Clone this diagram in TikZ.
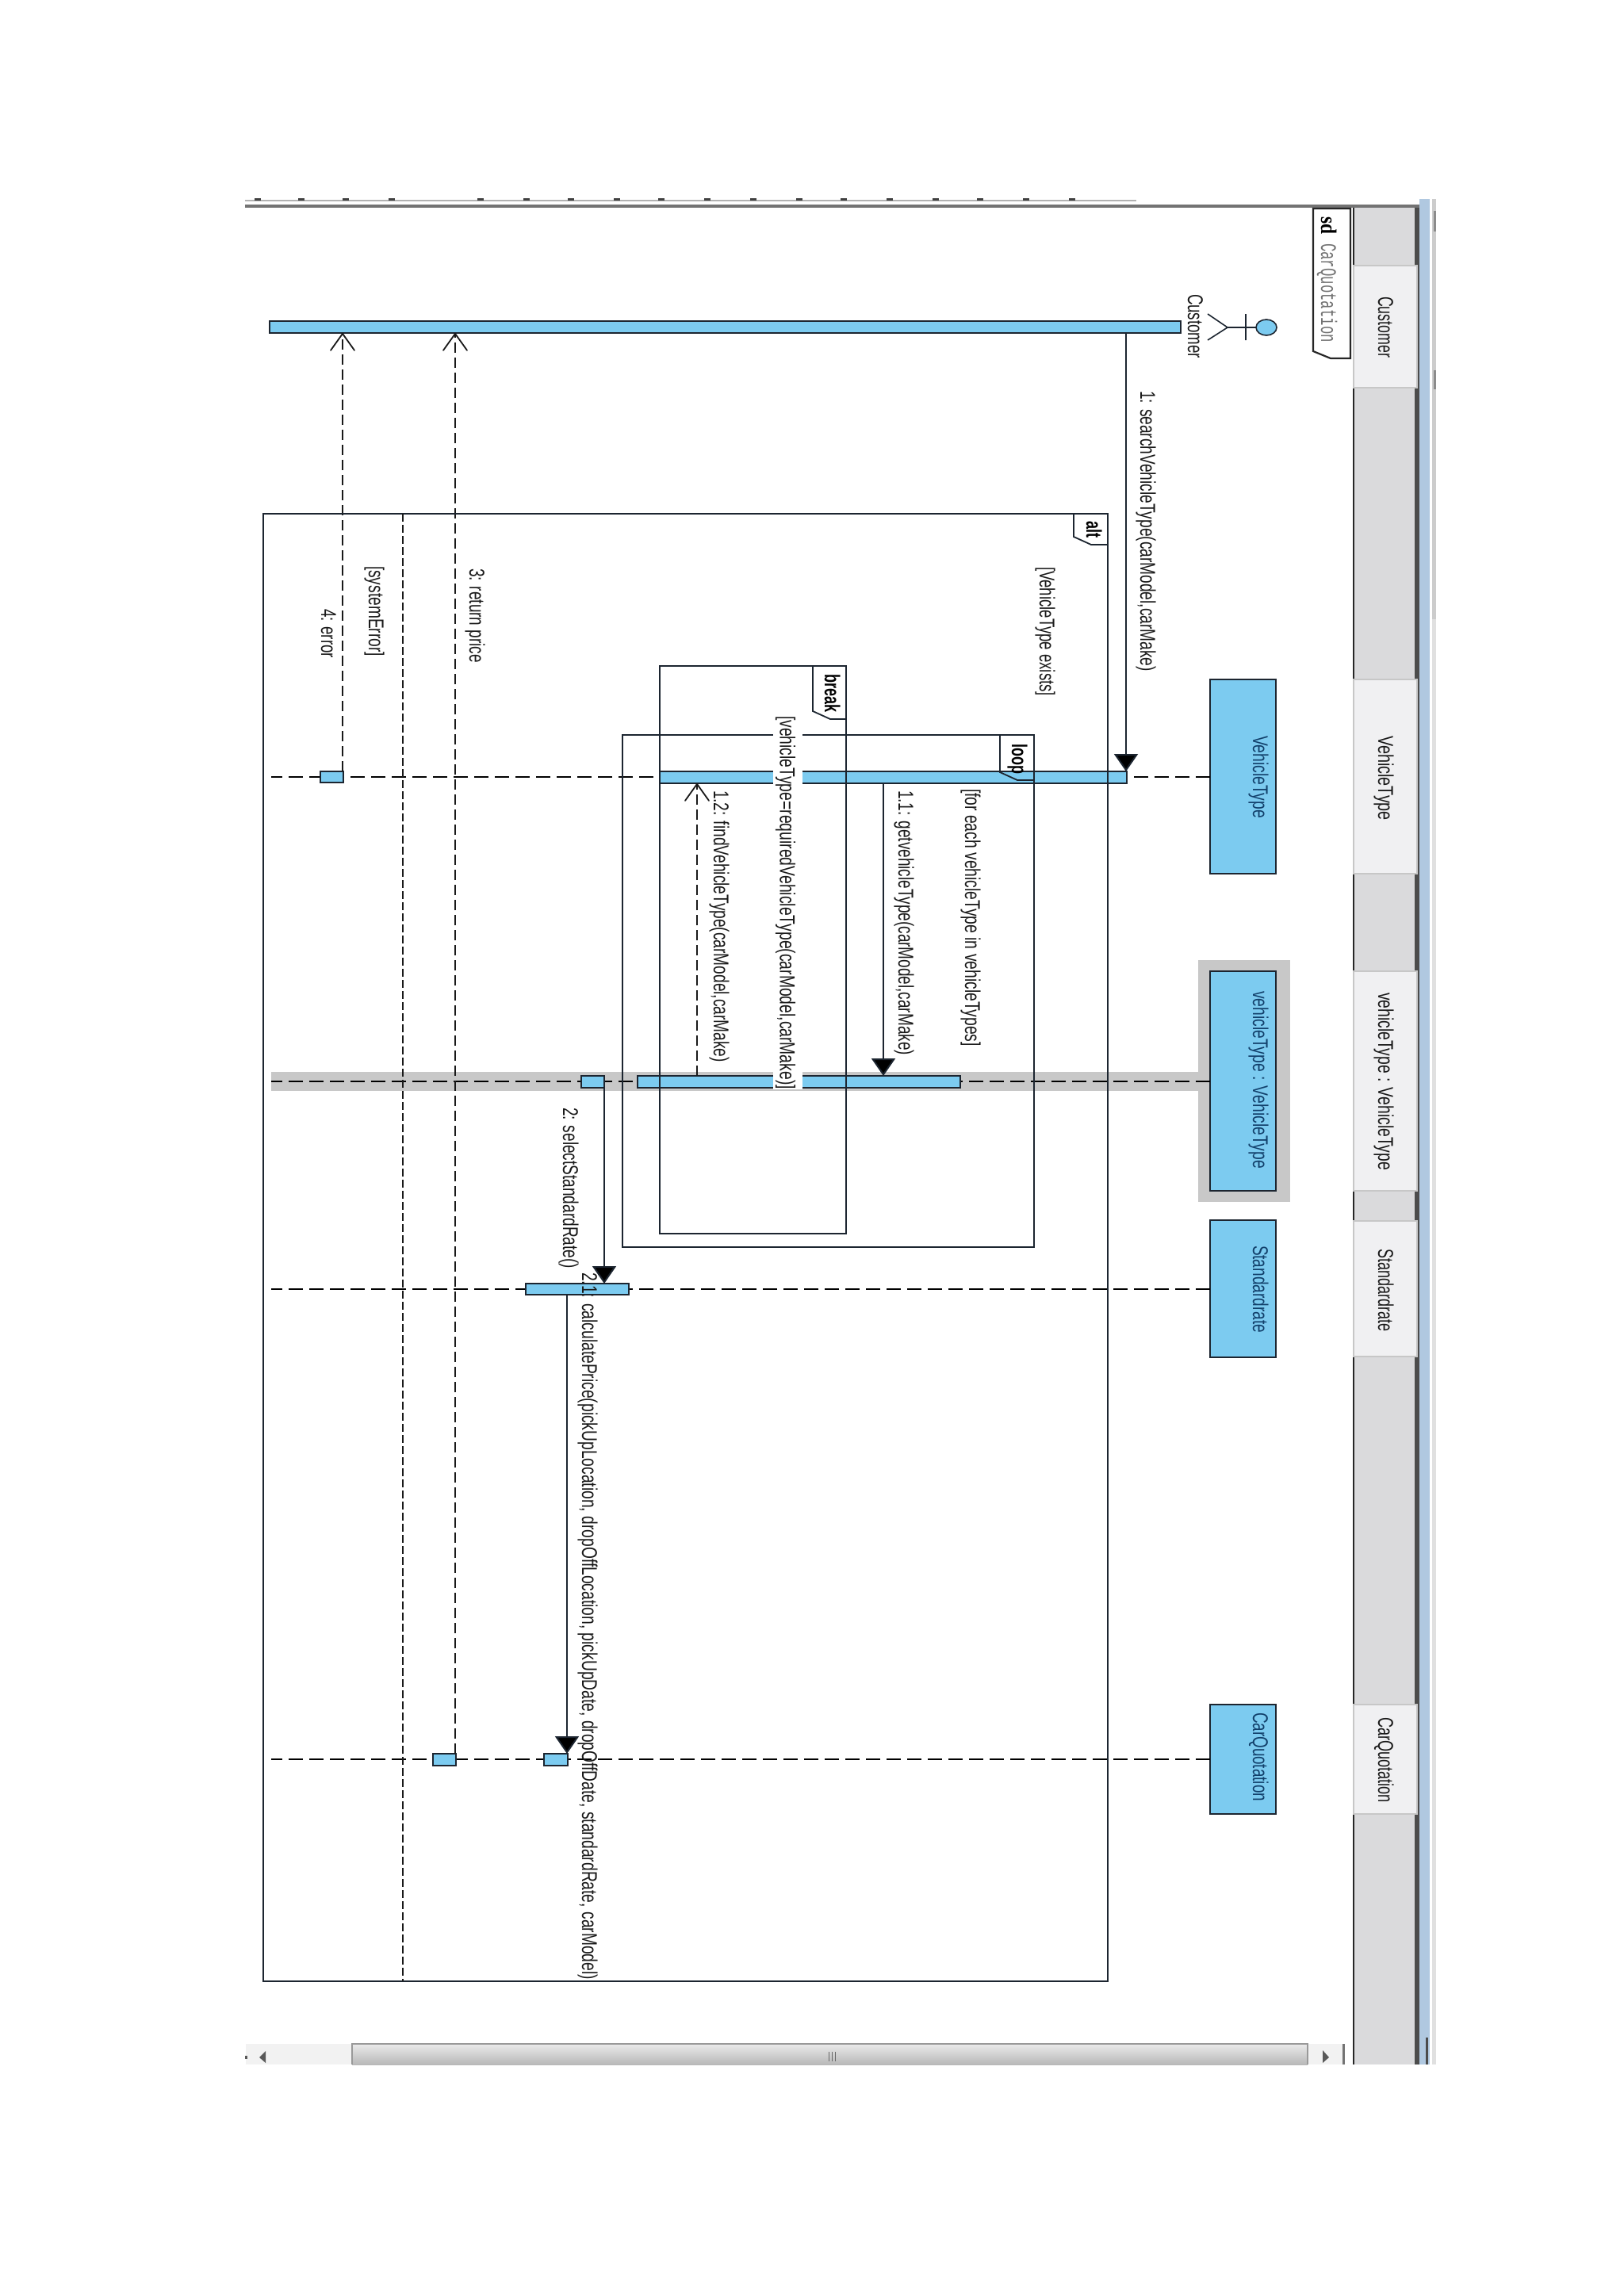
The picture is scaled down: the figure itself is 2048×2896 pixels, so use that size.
\documentclass[tikz,border=0pt]{standalone}
\usepackage{graphicx}
\usepackage{fontspec}
\setmainfont{Liberation Sans}
\newfontfamily\serifb{Liberation Serif}
\newfontfamily\monof{Liberation Mono}
\usetikzlibrary{arrows.meta,shadings,shapes.geometric}
\definecolor{objblue}{HTML}{7CCBF0}
\definecolor{linedark}{HTML}{1C2530}
\definecolor{navy}{HTML}{12406B}
\definecolor{txt}{HTML}{1A1A1A}
\definecolor{stripgrey}{HTML}{DADADC}
\definecolor{tabgrey}{HTML}{F0F0F2}
\definecolor{selgrey}{HTML}{C8C8C8}
\definecolor{winblue}{HTML}{B0C8E0}
\newlength\twl
\newcommand\tw[2]{\setlength{\twl}{#1pt}\setlength{\twl}{.5\twl}\resizebox{\twl}{\height}{#2}}
\newcommand\rectnode[6]{%
  \pgfmathsetmacro\rw{(#5-#3)/2}\pgfmathsetmacro\rh{(#6-#4)/2}%
  \pgfmathsetmacro\rx{(#3+#5)/2}\pgfmathsetmacro\ry{(#4+#6)/2}%
  \node[#1,minimum width=\rw pt,minimum height=\rh pt] (#2) at (\rx,\ry) {};}
\tikzset{
  base/.style={inner sep=0pt,outer sep=0pt},
  objbox/.style={base,draw=linedark,fill=objblue,line width=1.1pt},
  actbox/.style={base,draw=linedark,fill=objblue,line width=1pt},
  framebox/.style={base,draw=linedark,line width=.9pt},
  tabbox/.style={base,draw=black!22,fill=tabgrey,line width=.8pt},
  lbl/.style={base,rotate=-90,anchor=west,text height=10pt,text depth=3pt,text=txt,font=\fontsize{13.5}{15}\selectfont},
  lblb/.style={lbl,text=black,font=\fontsize{13.5}{15}\selectfont\bfseries},
  objlbl/.style={lbl,text=navy},
  tablbl/.style={lbl,text=black!90},
  life/.style={draw=black,line width=1pt,dash pattern=on 9pt off 4pt},
  msg/.style={draw=linedark,line width=1pt,-{Triangle[width=15pt,length=11pt,fill=black]}},
  ret/.style={draw=black!90,line width=1pt,dash pattern=on 6.5pt off 3pt,-{Straight Barb[width=15pt,length=10.5pt,line width=.9pt,round]}},
  sep/.style={draw=black!90,line width=1pt,dash pattern=on 5pt off 2pt},
}
\begin{document}
\begin{tikzpicture}[x=.5pt,y=-.5pt]
\useasboundingbox (0,0) rectangle (2048,2896);
\fill[white] (0,0) rectangle (2048,2896);
% window chrome
\fill[stripgrey] (1707,260) rectangle (1787,2604);
\draw[black!85,line width=1.2pt] (1707,260) -- (1707,2604);
\draw[black!85,line width=1.2pt] (1707,260) -- (1785,260);
\fill[black!70] (1784,260) rectangle (1790,2604);
\fill[winblue] (1790,251) rectangle (1803,2604);
\fill[black!20] (1806,251) rectangle (1811,781);
\fill[black!45] (1808,266) rectangle (1811,292);
\fill[black!45] (1808,467) rectangle (1811,491);
\fill[black!12] (1806,781) rectangle (1811,2604);
\fill[black!70] (1798,2570) rectangle (1801,2604);
\draw[black!55,line width=2pt] (309,260) -- (1790,260);
\draw[black!30,line width=.6pt] (309,253) -- (1433,253);
\foreach \tx in {325,380,436,494,606,664,720,778,834,892,950,1008,1064,1122,1180,1236,1294,1352}
  \fill[black!75] (\tx-4,250) rectangle (\tx+4,253);
% scrollbar
\fill[black!5] (310,2578) rectangle (1695,2604);
\fill[black!55] (1693,2578) rectangle (1696,2604);
\shade[top color=white!92!black,bottom color=black!28] (444,2578) rectangle (1649,2604);
\draw[black!40,line width=.8pt] (444,2604) -- (444,2578) -- (1649,2578) -- (1649,2604);
\fill[black!65] (1668,2586) -- (1676,2595) -- (1668,2602) -- cycle;
\fill[black!65] (335,2587) -- (327,2595) -- (335,2602) -- cycle;
\fill[black!65] (309,2593) rectangle (312,2597);
\foreach \gx in {1045,1049,1053}
  \draw[black!60,line width=.5pt] (\gx,2588) -- (\gx,2600);
% tabs
\rectnode{tabbox}{tabA}{1707}{335}{1787}{489}
\rectnode{tabbox}{tabB}{1707}{857}{1787}{1102}
\rectnode{tabbox}{tabC}{1707}{1225}{1787}{1502}
\rectnode{tabbox}{tabD}{1707}{1540}{1787}{1711}
\rectnode{tabbox}{tabE}{1707}{2150}{1787}{2288}
\node[tablbl] (tabtA) at (1745,374) {\tw{77}{Customer}};
\node[tablbl] (tabtB) at (1745,928) {\tw{107}{VehicleType}};
\node[tablbl] (tabtC) at (1745,1252) {\tw{224}{vehicleType : VehicleType}};
\node[tablbl] (tabtD) at (1745,1575) {\tw{104}{Standardrate}};
\node[tablbl] (tabtE) at (1745,2166) {\tw{108}{CarQuotation}};
% sd tag
\draw[black!85,fill=white,line width=1.1pt] (1656,263) -- (1703,263) -- (1703,452) -- (1678,452) -- (1656,443) -- cycle;
\node[lbl,text=black,font=\fontsize{14}{15}\selectfont\serifb\bfseries] (sdk) at (1673,273) {\tw{22}{sd}};
\node[lbl,text=black!55,font=\fontsize{14}{15}\selectfont\monof] (sdn) at (1673,307) {\tw{125}{CarQuotation}};
% selection
\fill[selgrey] (1511,1211) rectangle (1627,1516);
\fill[selgrey] (342,1352) rectangle (1511,1376);
% objects
\coordinate (lend) at (342,0);
\rectnode{objbox}{oVT}{1526}{857}{1609}{1102}
\rectnode{objbox}{oVI}{1526}{1225}{1609}{1502}
\rectnode{objbox}{oST}{1526}{1539}{1609}{1712}
\rectnode{objbox}{oCQ}{1526}{2150}{1609}{2288}
\draw[life] (oVT.west) -- (oVT.west -| lend);
\draw[life] (oVI.west) -- (oVI.west -| lend);
\draw[life] (oST.west) -- (oST.west -| lend);
\draw[life] (oCQ.west) -- (oCQ.west -| lend);
\node[objlbl] (otA) at (1587,928) {\tw{104}{VehicleType}};
\node[objlbl] (otB) at (1587,1250) {\tw{224}{vehicleType : VehicleType}};
\node[objlbl] (otC) at (1587,1571) {\tw{110}{Standardrate}};
\node[objlbl] (otD) at (1587,2160) {\tw{112}{CarQuotation}};
% actor
\node[base,draw=linedark,fill=objblue,line width=.8pt,ellipse,minimum width=13pt,minimum height=10pt] (head) at (1597,413) {};
\coordinate (hip) at (1548,413);
\coordinate (armA) at (1571,396);
\coordinate (armB) at (1571,429);
\coordinate (footA) at (1523,396);
\coordinate (footB) at (1523,429);
\draw[linedark,line width=.8pt] (head.west) -- (hip) (armA) -- (armB) (footA) -- (hip) -- (footB);
\node[lbl] (actl) at (1505,371) {\tw{81}{Customer}};
% activations
\rectnode{actbox}{acust}{340}{405}{1489}{420}
\rectnode{actbox}{avt}{832}{973}{1421}{988}
\rectnode{actbox}{aerr}{404}{973}{433}{987}
\rectnode{actbox}{along}{804}{1357}{1211}{1372}
\rectnode{actbox}{asm}{733}{1357}{762}{1372}
\rectnode{actbox}{astd}{663}{1619}{793}{1633}
\rectnode{actbox}{aret}{546}{2212}{575}{2227}
\rectnode{actbox}{acalc}{686}{2212}{716}{2227}
% messages
\coordinate (m1) at (1420,0);
\coordinate (m11) at (1114,0);
\coordinate (m12) at (879,0);
\coordinate (m2) at (762,0);
\coordinate (m21) at (715,0);
\coordinate (m3) at (574,0);
\coordinate (m4) at (432,0);
\draw[msg] (acust.south -| m1) -- (avt.north -| m1);
\draw[msg] (avt.south -| m11) -- (along.north -| m11);
\draw[ret] (along.north -| m12) -- (avt.south -| m12);
\draw[msg] (asm.south -| m2) -- (astd.north -| m2);
\draw[msg] (astd.south -| m21) -- (acalc.north -| m21);
\draw[ret] (aret.north -| m3) -- (acust.south -| m3);
\draw[ret] (aerr.north -| m4) -- (acust.south -| m4);
% combined fragments
\rectnode{framebox}{falt}{332}{648}{1397}{2499}
\rectnode{framebox}{fbrk}{832}{840}{1067}{1556}
\rectnode{framebox}{floop}{785}{927}{1304}{1573}
\coordinate (divx) at (508,0);
\draw[sep] (falt.north -| divx) -- (falt.south -| divx);
\draw[framebox] (1354,648) -- (1354,677) -- (1376,687) -- (1397,687);
\draw[framebox] (1025,840) -- (1025,897) -- (1047,907) -- (1067,907);
\draw[framebox] (1261,927) -- (1261,974) -- (1283,984) -- (1304,984);
\node[lblb] (talt) at (1377,657) {\tw{21}{alt}};
\node[lblb] (tbrk) at (1047,850) {\tw{48}{break}};
\node[lblb] (tloop) at (1283,938) {\tw{38}{loop}};
% labels
\node[lbl] (l1) at (1445,493) {\tw{354}{1: searchVehicleType(carModel,carMake)}};
\node[lbl] (gv) at (1318,715) {\tw{163}{[VehicleType exists]}};
\node[lbl] (l11) at (1140,997) {\tw{334}{1.1: getvehicleType(carModel,carMake)}};
\node[lbl] (l12) at (907,997) {\tw{343}{1.2: findVehicleType(carModel,carMake)}};
\node[lbl] (gf) at (1224,995) {\tw{325}{[for each vehicleType in vehicleTypes]}};
\node[lbl,fill=white,text height=13pt,inner ysep=1.25pt] (gb) at (993.5,903) {\tw{471}{[vehicleType=requiredVehicleType(carModel,carMake)]}};
\node[lbl] (l2) at (717,1397) {\tw{203}{2: selectStandardRate()}};
\node[lbl] (l21) at (741,1605) {\tw{892}{2.1: calculatePrice(pickUpLocation, dropOffLocation, pickUpDate, dropOffDate, standardRate, carModel)}};
\node[lbl] (l3) at (599,717) {\tw{119}{3: return price}};
\node[lbl] (l4) at (412,768) {\tw{62}{4: error}};
\node[lbl] (gs) at (472,714) {\tw{114}{[systemError]}};
\end{tikzpicture}
\end{document}
